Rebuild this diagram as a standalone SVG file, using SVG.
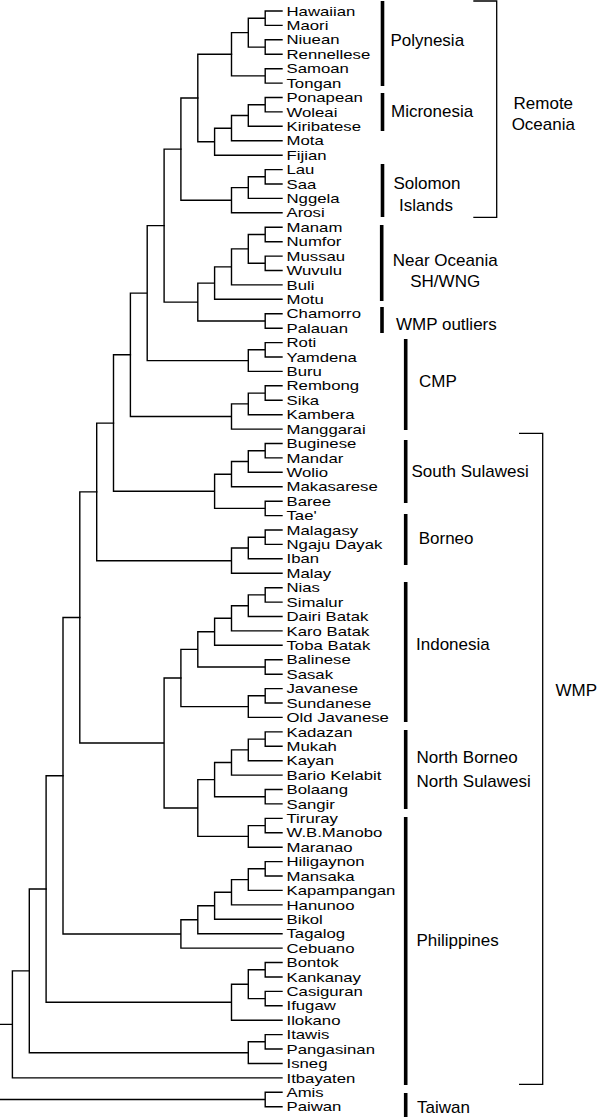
<svg xmlns="http://www.w3.org/2000/svg" width="600" height="1117" viewBox="0 0 600 1117">
<style>
.e{fill:none;stroke:#000;stroke-width:1.4;stroke-linecap:square}
.lf{font-family:"Liberation Sans",Arial,sans-serif;font-size:12.6px;fill:#000}
.gl{font-family:"Liberation Sans",Arial,sans-serif;font-size:17px;fill:#000}
.bar{stroke:#000;stroke-width:3.6;fill:none}
.br{fill:none;stroke:#000;stroke-width:1.3}
</style>
<rect width="600" height="1117" fill="#fff"/>
<g id="connectors" class="e">
<path d="M282 11H265.2V25.4H282M282 39.8H265.2V54.3H282M265.2 18.2H248.3V47.1H265.2M282 68.7H265.2V83.1H282M248.3 32.6H231.5V75.9H265.2"/>
<path d="M282 97.5H265.2V111.9H282M265.2 104.7H248.3V126.3H282M248.3 115.5H231.5V140.8H282M231.5 128.2H214.6V155.2H282M231.5 54.3H197.8V141.7H214.6"/>
<path d="M282 169.6H265.2V184H282M265.2 176.8H248.3V198.4H282M248.3 187.6H231.5V212.8H282M197.8 98H180.9V200.2H231.5"/>
<path d="M282 227.3H265.2V241.7H282M282 256.1H265.2V270.5H282M265.2 234.5H248.3V263.3H265.2M248.3 248.9H231.5V284.9H282M231.5 266.9H214.6V299.3H282M282 313.8H265.2V328.2H282M214.6 283.1H197.8V321H265.2M180.9 149.1H164.1V302.1H197.8"/>
<path d="M282 342.6H265.2V357H282M265.2 349.8H248.3V371.4H282M164.1 225.6H147.2V360.6H248.3M282 385.8H265.2V400.3H282M265.2 393.1H248.3V414.7H282M248.3 403.9H231.5V429.1H282M147.2 293.1H130.4V416.5H231.5"/>
<path d="M282 443.5H265.2V457.9H282M265.2 450.7H248.3V472.3H282M248.3 461.5H231.5V486.8H282M282 501.2H265.2V515.6H282M231.5 474.2H214.6V508.4H265.2M130.4 354.8H113.5V491.3H214.6"/>
<path d="M282 530H265.2V544.4H282M265.2 537.2H248.3V558.8H282M248.3 548H231.5V573.3H282M113.5 423.1H96.7V560.7H231.5"/>
<path d="M282 587.7H265.2V602.1H282M265.2 594.9H248.3V616.5H282M248.3 605.7H231.5V630.9H282M231.5 618.3H214.6V645.3H282M282 659.8H265.2V674.2H282M214.6 631.8H197.8V667H265.2M282 688.6H265.2V703H282M265.2 695.8H248.3V717.4H282M197.8 649.4H180.9V706.6H248.3"/>
<path d="M282 731.9H265.2V746.3H282M265.2 739.1H248.3V760.7H282M248.3 749.9H231.5V775.1H282M282 789.5H265.2V803.9H282M231.5 762.5H214.6V796.7H265.2M282 818.4H265.2V832.8H282M265.2 825.6H248.3V847.2H282M214.6 779.6H197.8V836.4H248.3M180.9 678H164.1V808H197.8M96.7 491.9H79.8V743H164.1"/>
<path d="M282 861.6H265.2V876H282M265.2 868.8H248.3V890.4H282M248.3 879.6H231.5V904.9H282M231.5 892.3H214.6V919.3H282M214.6 905.8H197.8V933.7H282M197.8 919.8H180.9V948.1H282M79.8 617.5H63V934H180.9"/>
<path d="M282 962.5H265.2V977H282M282 991.4H265.2V1005.8H282M265.2 969.8H248.3V998.6H265.2M248.3 984.2H231.5V1020.2H282M63 775.8H46.1V1002.2H231.5"/>
<path d="M282 1034.6H265.2V1049H282M265.2 1041.8H248.3V1063.5H282M46.1 889H29.3V1052.7H248.3M29.3 970.9H12.4V1077.9H282M282 1092.3H265.2V1106.7H282M12.4 1024.4H-4.5V1099.5H265.2"/>
</g>
<g id="leaves" class="lf">
<g id="n-hawaiian"><text transform="translate(286.5,15.6) scale(1.33,1)">Hawaiian</text></g>
<g id="n-maori"><text transform="translate(286.5,30) scale(1.33,1)">Maori</text></g>
<g id="n-niuean"><text transform="translate(286.5,44.4) scale(1.33,1)">Niuean</text></g>
<g id="n-rennellese"><text transform="translate(286.5,58.9) scale(1.33,1)">Rennellese</text></g>
<g id="n-samoan"><text transform="translate(286.5,73.3) scale(1.33,1)">Samoan</text></g>
<g id="n-tongan"><text transform="translate(286.5,87.7) scale(1.33,1)">Tongan</text></g>
<g id="n-ponapean"><text transform="translate(286.5,102.1) scale(1.33,1)">Ponapean</text></g>
<g id="n-woleai"><text transform="translate(286.5,116.5) scale(1.33,1)">Woleai</text></g>
<g id="n-kiribatese"><text transform="translate(286.5,130.9) scale(1.33,1)">Kiribatese</text></g>
<g id="n-mota"><text transform="translate(286.5,145.4) scale(1.33,1)">Mota</text></g>
<g id="n-fijian"><text transform="translate(286.5,159.8) scale(1.33,1)">Fijian</text></g>
<g id="n-lau"><text transform="translate(286.5,174.2) scale(1.33,1)">Lau</text></g>
<g id="n-saa"><text transform="translate(286.5,188.6) scale(1.33,1)">Saa</text></g>
<g id="n-nggela"><text transform="translate(286.5,203) scale(1.33,1)">Nggela</text></g>
<g id="n-arosi"><text transform="translate(286.5,217.4) scale(1.33,1)">Arosi</text></g>
<g id="n-manam"><text transform="translate(286.5,231.9) scale(1.33,1)">Manam</text></g>
<g id="n-numfor"><text transform="translate(286.5,246.3) scale(1.33,1)">Numfor</text></g>
<g id="n-mussau"><text transform="translate(286.5,260.7) scale(1.33,1)">Mussau</text></g>
<g id="n-wuvulu"><text transform="translate(286.5,275.1) scale(1.33,1)">Wuvulu</text></g>
<g id="n-buli"><text transform="translate(286.5,289.5) scale(1.33,1)">Buli</text></g>
<g id="n-motu"><text transform="translate(286.5,303.9) scale(1.33,1)">Motu</text></g>
<g id="n-chamorro"><text transform="translate(286.5,318.4) scale(1.33,1)">Chamorro</text></g>
<g id="n-palauan"><text transform="translate(286.5,332.8) scale(1.33,1)">Palauan</text></g>
<g id="n-roti"><text transform="translate(286.5,347.2) scale(1.33,1)">Roti</text></g>
<g id="n-yamdena"><text transform="translate(286.5,361.6) scale(1.33,1)">Yamdena</text></g>
<g id="n-buru"><text transform="translate(286.5,376) scale(1.33,1)">Buru</text></g>
<g id="n-rembong"><text transform="translate(286.5,390.4) scale(1.33,1)">Rembong</text></g>
<g id="n-sika"><text transform="translate(286.5,404.9) scale(1.33,1)">Sika</text></g>
<g id="n-kambera"><text transform="translate(286.5,419.3) scale(1.33,1)">Kambera</text></g>
<g id="n-manggarai"><text transform="translate(286.5,433.7) scale(1.33,1)">Manggarai</text></g>
<g id="n-buginese"><text transform="translate(286.5,448.1) scale(1.33,1)">Buginese</text></g>
<g id="n-mandar"><text transform="translate(286.5,462.5) scale(1.33,1)">Mandar</text></g>
<g id="n-wolio"><text transform="translate(286.5,476.9) scale(1.33,1)">Wolio</text></g>
<g id="n-makasarese"><text transform="translate(286.5,491.4) scale(1.33,1)">Makasarese</text></g>
<g id="n-baree"><text transform="translate(286.5,505.8) scale(1.33,1)">Baree</text></g>
<g id="n-tae"><text transform="translate(286.5,520.2) scale(1.33,1)">Tae'</text></g>
<g id="n-malagasy"><text transform="translate(286.5,534.6) scale(1.33,1)">Malagasy</text></g>
<g id="n-ngaju-dayak"><text transform="translate(286.5,549) scale(1.33,1)">Ngaju Dayak</text></g>
<g id="n-iban"><text transform="translate(286.5,563.4) scale(1.33,1)">Iban</text></g>
<g id="n-malay"><text transform="translate(286.5,577.9) scale(1.33,1)">Malay</text></g>
<g id="n-nias"><text transform="translate(286.5,592.3) scale(1.33,1)">Nias</text></g>
<g id="n-simalur"><text transform="translate(286.5,606.7) scale(1.33,1)">Simalur</text></g>
<g id="n-dairi-batak"><text transform="translate(286.5,621.1) scale(1.33,1)">Dairi Batak</text></g>
<g id="n-karo-batak"><text transform="translate(286.5,635.5) scale(1.33,1)">Karo Batak</text></g>
<g id="n-toba-batak"><text transform="translate(286.5,649.9) scale(1.33,1)">Toba Batak</text></g>
<g id="n-balinese"><text transform="translate(286.5,664.4) scale(1.33,1)">Balinese</text></g>
<g id="n-sasak"><text transform="translate(286.5,678.8) scale(1.33,1)">Sasak</text></g>
<g id="n-javanese"><text transform="translate(286.5,693.2) scale(1.33,1)">Javanese</text></g>
<g id="n-sundanese"><text transform="translate(286.5,707.6) scale(1.33,1)">Sundanese</text></g>
<g id="n-old-javanese"><text transform="translate(286.5,722) scale(1.33,1)">Old Javanese</text></g>
<g id="n-kadazan"><text transform="translate(286.5,736.5) scale(1.33,1)">Kadazan</text></g>
<g id="n-mukah"><text transform="translate(286.5,750.9) scale(1.33,1)">Mukah</text></g>
<g id="n-kayan"><text transform="translate(286.5,765.3) scale(1.33,1)">Kayan</text></g>
<g id="n-bario-kelabit"><text transform="translate(286.5,779.7) scale(1.33,1)">Bario Kelabit</text></g>
<g id="n-bolaang"><text transform="translate(286.5,794.1) scale(1.33,1)">Bolaang</text></g>
<g id="n-sangir"><text transform="translate(286.5,808.5) scale(1.33,1)">Sangir</text></g>
<g id="n-tiruray"><text transform="translate(286.5,823) scale(1.33,1)">Tiruray</text></g>
<g id="n-wb-manobo"><text transform="translate(286.5,837.4) scale(1.33,1)">W.B.Manobo</text></g>
<g id="n-maranao"><text transform="translate(286.5,851.8) scale(1.33,1)">Maranao</text></g>
<g id="n-hiligaynon"><text transform="translate(286.5,866.2) scale(1.33,1)">Hiligaynon</text></g>
<g id="n-mansaka"><text transform="translate(286.5,880.6) scale(1.33,1)">Mansaka</text></g>
<g id="n-kapampangan"><text transform="translate(286.5,895) scale(1.33,1)">Kapampangan</text></g>
<g id="n-hanunoo"><text transform="translate(286.5,909.5) scale(1.33,1)">Hanunoo</text></g>
<g id="n-bikol"><text transform="translate(286.5,923.9) scale(1.33,1)">Bikol</text></g>
<g id="n-tagalog"><text transform="translate(286.5,938.3) scale(1.33,1)">Tagalog</text></g>
<g id="n-cebuano"><text transform="translate(286.5,952.7) scale(1.33,1)">Cebuano</text></g>
<g id="n-bontok"><text transform="translate(286.5,967.1) scale(1.33,1)">Bontok</text></g>
<g id="n-kankanay"><text transform="translate(286.5,981.6) scale(1.33,1)">Kankanay</text></g>
<g id="n-casiguran"><text transform="translate(286.5,996) scale(1.33,1)">Casiguran</text></g>
<g id="n-ifugaw"><text transform="translate(286.5,1010.4) scale(1.33,1)">Ifugaw</text></g>
<g id="n-ilokano"><text transform="translate(286.5,1024.8) scale(1.33,1)">Ilokano</text></g>
<g id="n-itawis"><text transform="translate(286.5,1039.2) scale(1.33,1)">Itawis</text></g>
<g id="n-pangasinan"><text transform="translate(286.5,1053.6) scale(1.33,1)">Pangasinan</text></g>
<g id="n-isneg"><text transform="translate(286.5,1068.1) scale(1.33,1)">Isneg</text></g>
<g id="n-itbayaten"><text transform="translate(286.5,1082.5) scale(1.33,1)">Itbayaten</text></g>
<g id="n-amis"><text transform="translate(286.5,1096.9) scale(1.33,1)">Amis</text></g>
<g id="n-paiwan"><text transform="translate(286.5,1111.3) scale(1.33,1)">Paiwan</text></g>
</g>
<g id="groups">
<g id="g-polynesia"><path class="bar" d="M382.5 1V86"/><text class="gl" x="390.4" y="45.6">Polynesia</text></g>
<g id="g-micronesia"><path class="bar" d="M382.5 93V131"/><text class="gl" x="391" y="117.3">Micronesia</text></g>
<g id="g-solomon"><path class="bar" d="M382.5 164V217"/><text class="gl" x="427" y="189.3" text-anchor="middle">Solomon</text><text class="gl" x="426" y="211" text-anchor="middle">Islands</text></g>
<g id="g-remote-oceania"><path class="br" d="M473.3 1H496.7V217.3H473.3"/><text class="gl" x="543.3" y="109" text-anchor="middle">Remote</text><text class="gl" x="543.3" y="130" text-anchor="middle">Oceania</text></g>
<g id="g-near-oceania"><path class="bar" d="M381.7 225V301"/><text class="gl" x="445.2" y="265.7" text-anchor="middle">Near Oceania</text><text class="gl" x="445.2" y="286.7" text-anchor="middle">SH/WNG</text></g>
<g id="g-wmp-outliers"><path class="bar" d="M382 307V333"/><text class="gl" x="396" y="330">WMP outliers</text></g>
<g id="g-cmp"><path class="bar" d="M405.7 339V430"/><text class="gl" x="419" y="386.7">CMP</text></g>
<g id="g-south-sulawesi"><path class="bar" d="M405.7 440V503"/><text class="gl" x="411.5" y="477.3">South Sulawesi</text></g>
<g id="g-borneo"><path class="bar" d="M405.7 514V565"/><text class="gl" x="418.7" y="544">Borneo</text></g>
<g id="g-indonesia"><path class="bar" d="M405.7 582V722"/><text class="gl" x="416" y="650">Indonesia</text></g>
<g id="g-nbns"><path class="bar" d="M405.7 730V809"/><text class="gl" x="416.5" y="763.3">North Borneo</text><text class="gl" x="416.5" y="786.7">North Sulawesi</text></g>
<g id="g-philippines"><path class="bar" d="M405.7 817V1085"/><text class="gl" x="416.5" y="946">Philippines</text></g>
<g id="g-taiwan"><path class="bar" d="M405.7 1093V1117"/><text class="gl" x="417" y="1113.3">Taiwan</text></g>
<g id="g-wmp"><path class="br" d="M519 433.3H542.7V1084.3H519"/><text class="gl" x="555.5" y="696">WMP</text></g>
</g>
</svg>
